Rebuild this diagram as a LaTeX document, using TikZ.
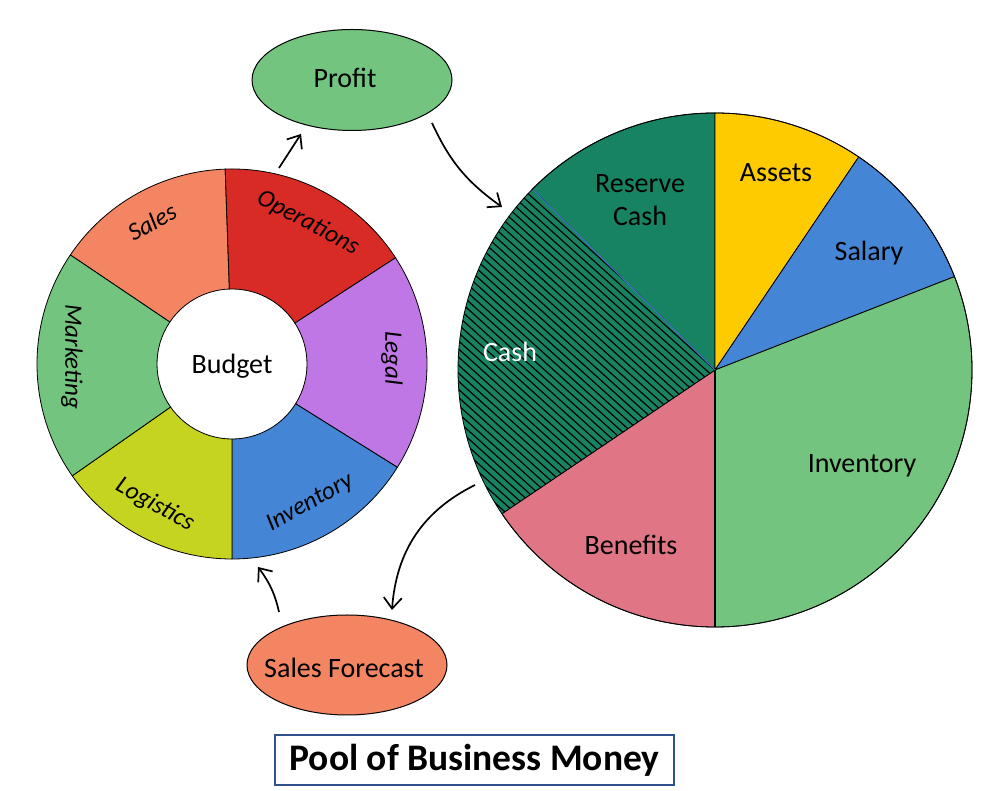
\documentclass[tikz,border=0pt]{standalone}
\usepackage{fontspec}
\setmainfont{Carlito}
\usetikzlibrary{shapes.geometric,arrows.meta,bending}
\definecolor{salmonc}{HTML}{F38562}
\definecolor{redc}{HTML}{D92B26}
\definecolor{purplec}{HTML}{BF77E5}
\definecolor{bluec}{HTML}{4485D5}
\definecolor{limec}{HTML}{C5D321}
\definecolor{greenc}{HTML}{72C47F}
\definecolor{tealc}{HTML}{178363}
\definecolor{goldc}{HTML}{FECB00}
\definecolor{pinkc}{HTML}{E07586}
\definecolor{framec}{HTML}{2F528F}
\definecolor{edgeblue}{HTML}{4472C4}
\begin{document}
\begin{tikzpicture}[x=1pt,y=1pt,
  seg/.style={draw=black,line width=0.8pt},
  plbl/.style={font=\fontsize{28}{33}\selectfont,inner sep=0pt,align=center},
  dlbl/.style={font=\fontsize{25}{30}\selectfont\itshape,inner sep=0pt},
  oval/.style={ellipse,draw=black,line width=1pt,minimum width=200pt,minimum height=101pt,inner sep=0pt},
  arr/.style={line width=1.7pt,-{Straight Barb[length=11pt,width=18pt,line width=1.7pt]}}]
\useasboundingbox (0,0) rectangle (1000,791);

% ---------- donut (Budget) ----------
\begin{scope}[shift={(232,427)}]
  \foreach \a/\b/\c in {92/146/salmonc, 33/92/redc, -32/33/purplec, -90/-32/bluec, -145/-90/limec, -214/-145/greenc}
    \filldraw[seg,fill=\c] (\a:75) -- (\a:195) arc[start angle=\a,end angle=\b,radius=195] -- (\b:75) arc[start angle=\b,end angle=\a,radius=75] -- cycle;
\end{scope}
\node[font=\fontsize{28}{33}\selectfont,inner sep=0pt] (budget) at (232,425) {Budget};
\node[dlbl,rotate=29] (dsales) at (152,569) {Sales};
\node[dlbl,rotate=-28] (dops) at (308,568) {Operations};
\node[dlbl,rotate=-90] (dlegal) at (392,433) {Legal};
\node[dlbl,rotate=29] (dinv) at (310,288) {Inventory};
\node[dlbl,rotate=-29] (dlog) at (155,286) {Logistics};
\node[dlbl,rotate=-90] (dmkt) at (72,434) {Marketing};

% ---------- pie (Pool) ----------
\begin{scope}[shift={(715,421)}]
  \filldraw[seg,fill=tealc] (0,0) -- (90:257) arc[start angle=90,end angle=135.3,radius=257] -- cycle;
  \filldraw[seg,fill=goldc] (0,0) -- (56:257) arc[start angle=56,end angle=90,radius=257] -- cycle;
  \filldraw[seg,fill=bluec] (0,0) -- (21.3:257) arc[start angle=21.3,end angle=56,radius=257] -- cycle;
  \filldraw[seg,fill=greenc] (0,0) -- (-90:257) arc[start angle=-90,end angle=21.3,radius=257] -- cycle;
  \filldraw[seg,fill=pinkc] (0,0) -- (-146:257) arc[start angle=-146,end angle=-90,radius=257] -- cycle;
  \fill[tealc] (0,0) -- (135.3:257) arc[start angle=135.3,end angle=214,radius=257] -- cycle;
  \begin{scope}
    \clip (0,0) -- (135.3:257) arc[start angle=135.3,end angle=214,radius=257] -- cycle;
    \begin{scope}[rotate=-42]
      \foreach \k in {-264,-258,...,264}
        \draw[line width=1.2pt] (-270,\k) -- (270,\k);
    \end{scope}
  \end{scope}
  \draw[seg] (0,0) -- (214:257);
  \draw[edgeblue,line width=1pt] (0,0) -- (135.3:257);
  \draw[line width=2pt] (0,0) -- (-90:257);
  \draw[seg] (0,0) circle[radius=257];
\end{scope}
\node[plbl] (preserve) at (640,591) {Reserve\\Cash};
\node[plbl] (passets) at (776,618) {Assets};
\node[plbl] (psalary) at (869,538) {Salary};
\node[plbl] (pinv) at (862,325) {Inventory};
\node[plbl] (pbenefits) at (631,246) {Benefits};
\node[plbl,text=white] (pcash) at (510,439) {Cash};

% ---------- ovals ----------
\node[oval,fill=greenc] (profit) at (352,711) {};
\node[plbl] (profittxt) at (345,713) {Profit};
\node[oval,fill=salmonc,minimum height=100pt] (forecast) at (347,126) {};
\node[plbl] (forecasttxt) at (344,123) {Sales Forecast};

% ---------- title ----------
\node[draw=framec,line width=2.2pt,minimum width=399pt,minimum height=50pt,inner sep=0pt,font=\fontsize{37.5}{42}\selectfont\bfseries] (title) at (474.5,31) {Pool of Business Money};

% ---------- connectors ----------
\coordinate (opsOut) at (279,623);
\coordinate (profitIn) at (301,657);
\coordinate (profitOut) at (432,668);
\coordinate (pieIn) at (502,584);
\coordinate (pieOut) at (475,306);
\coordinate (fcIn) at (392,181);
\coordinate (fcOut) at (279,179);
\coordinate (donutIn) at (258,224);
\draw[arr] (opsOut) -- (profitIn);
\draw[arr] (profitOut) to[bend right=15] (pieIn);
\draw[arr] (pieOut) to[bend right=30] (fcIn);
\draw[arr] (fcOut) to[bend right=12] (donutIn);
\end{tikzpicture}
\end{document}
